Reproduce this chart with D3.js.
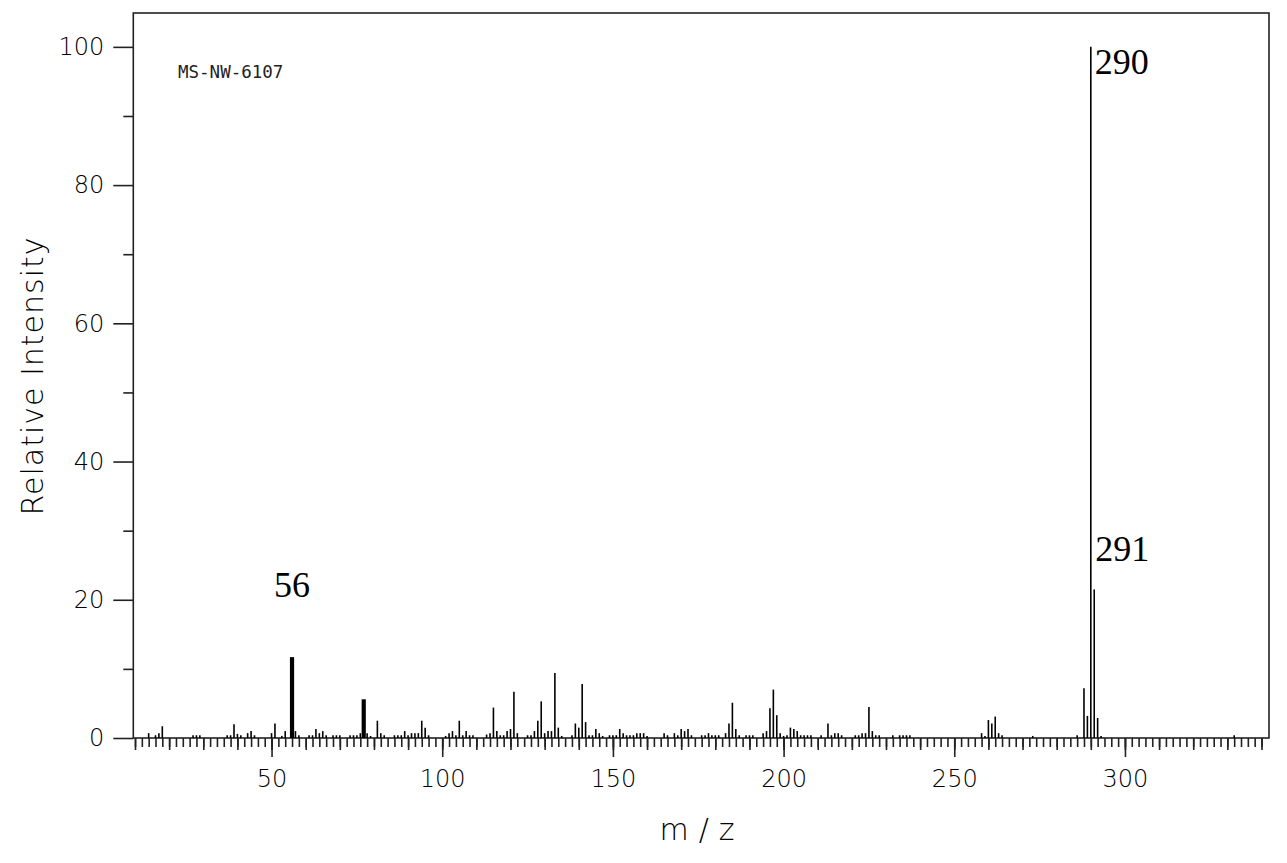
<!DOCTYPE html>
<html>
<head>
<meta charset="utf-8">
<script src="https://cdn.jsdelivr.net/npm/d3@7"></script>
<style>
  body { margin: 0; background: #fff; }
  svg { display: block; }
</style>
</head>
<body>
<div id="spectrum"></div>
<script>
// peak list (m/z and relative intensity, %)
const peakMz = [
  14, 16, 17, 18, 27, 28, 29, 37, 38, 39, 40, 41, 43, 44, 45, 50, 51, 53, 54, 56,
  57, 58, 61, 62, 63, 64, 65, 66, 68, 69, 70, 73, 74, 75, 76, 77, 78, 79, 81, 82,
  83, 86, 87, 88, 89, 90, 91, 92, 93, 94, 95, 96, 101, 102, 103, 104, 105, 106, 107, 108,
  109, 113, 114, 115, 116, 117, 118, 119, 120, 121, 122, 125, 126, 127, 128, 129, 130, 131, 132, 133,
  134, 135, 138, 139, 140, 141, 142, 143, 144, 145, 146, 147, 149, 150, 151, 152, 153, 154, 155, 156,
  157, 158, 159, 160, 165, 166, 168, 169, 170, 171, 172, 173, 176, 177, 178, 179, 180, 181, 183, 184,
  185, 186, 187, 189, 190, 191, 194, 195, 196, 197, 198, 199, 200, 201, 202, 203, 204, 205, 206, 207,
  208, 211, 213, 214, 215, 216, 217, 221, 222, 223, 224, 225, 226, 227, 228, 232, 234, 235, 236, 237,
  258, 259, 260, 261, 262, 263, 264, 273, 286, 288, 289, 290, 291, 292, 293, 332
]
const peakIntensity = [
  0.7, 0.4, 0.7, 1.7, 0.4, 0.4, 0.4, 0.4, 0.4, 2.0, 0.6, 0.4, 0.7, 1.0, 0.4, 0.7, 2.1, 0.3, 1.0, 11.7,
  1.0, 0.4, 0.4, 0.4, 1.3, 0.7, 1.0, 0.4, 0.4, 0.4, 0.4, 0.4, 0.4, 0.4, 0.7, 5.6, 0.7, 0.3, 2.5, 0.7,
  0.4, 0.4, 0.4, 0.4, 1.0, 0.4, 0.7, 0.7, 0.7, 2.5, 1.5, 0.4, 0.3, 0.7, 1.0, 0.4, 2.5, 0.4, 1.0, 0.4,
  0.4, 0.5, 0.7, 4.4, 1.0, 0.4, 0.4, 1.0, 1.3, 6.7, 0.7, 0.4, 0.4, 1.0, 2.5, 5.3, 0.7, 1.0, 1.0, 9.4,
  1.5, 0.3, 0.4, 2.1, 1.5, 7.8, 2.3, 0.4, 0.4, 1.3, 0.7, 0.3, 0.4, 0.4, 0.4, 1.3, 0.7, 0.4, 0.4, 0.4,
  0.7, 0.7, 0.7, 0.3, 0.7, 0.4, 0.7, 0.4, 1.3, 1.0, 1.3, 0.4, 0.4, 0.4, 0.7, 0.4, 0.4, 0.4, 0.7, 2.1,
  5.1, 1.3, 0.4, 0.4, 0.4, 0.4, 0.7, 1.0, 4.3, 7.0, 3.3, 0.7, 0.3, 0.4, 1.5, 1.3, 1.0, 0.4, 0.4, 0.4,
  0.4, 0.4, 2.1, 0.4, 0.7, 0.7, 0.4, 0.4, 0.4, 0.7, 0.7, 4.5, 1.0, 0.4, 0.4, 0.4, 0.4, 0.4, 0.4, 0.4,
  0.7, 0.3, 2.6, 2.1, 3.1, 0.7, 0.4, 0.3, 0.4, 7.2, 3.2, 100, 21.5, 2.9, 0.3, 0.4
]
const labelledPeaks = [56, 290, 291]
const xTickLabels = [50, 100, 150, 200, 250, 300]
const yTickLabels = [0, 20, 40, 60, 80, 100]
const sampleId = 'MS-NW-6107'

const peaks = peakMz.map((mz, i) => ({ mz: mz, value: peakIntensity[i] }))

const width = 1287
const height = 863
const plot = { left: 133.3, right: 1269, top: 13, bottom: 738 }
const ink = '#222'
const tickFont = "'DejaVu Sans', sans-serif"

const svg = d3
  .select('#spectrum')
  .append('svg')
  .attr('width', width)
  .attr('height', height)

const x = d3
  .scaleLinear()
  .domain([9.5, 342.2])
  .range([plot.left, plot.right])

const y = d3
  .scaleLinear()
  .domain([0, 104.9])
  .range([plot.bottom, plot.top])

// x ticks: every 2, longer every 10, longest (labelled) every 50
const xMinor = g =>
  g
    .attr('transform', `translate(0,${plot.bottom})`)
    .call(d3.axisBottom(x).tickValues(d3.range(10, 342, 2)).tickSize(9).tickFormat(''))
    .call(g => g.select('.domain').remove())

const xMid = g =>
  g
    .attr('transform', `translate(0,${plot.bottom})`)
    .call(d3.axisBottom(x).tickValues(d3.range(10, 342, 10)).tickSize(12).tickFormat(''))
    .call(g => g.select('.domain').remove())

const xAxis = g =>
  g
    .attr('transform', `translate(0,${plot.bottom})`)
    .call(d3.axisBottom(x).tickValues(xTickLabels).tickSize(19).tickPadding(13))
    .call(g => g.select('.domain').remove())
    .call(g =>
      g
        .selectAll('text')
        .style('font-family', tickFont)
        .style('font-weight', 200)
        .style('font-size', '24px')
        .attr('fill', '#000')
    )

const yMinor = g =>
  g
    .attr('transform', `translate(${plot.left},0)`)
    .call(d3.axisLeft(y).tickValues([10, 30, 50, 70, 90]).tickSize(10).tickFormat(''))
    .call(g => g.select('.domain').remove())

const yAxis = g =>
  g
    .attr('transform', `translate(${plot.left},0)`)
    .call(d3.axisLeft(y).tickValues(yTickLabels).tickSize(20).tickPadding(9))
    .call(g => g.select('.domain').remove())
    .call(g =>
      g
        .selectAll('text')
        .style('font-family', tickFont)
        .style('font-weight', 200)
        .style('font-size', '24px')
        .attr('fill', '#000')
    )

svg.append('g').call(xMinor)
svg.append('g').call(xMid)
svg.append('g').call(xAxis)
svg.append('g').call(yMinor)
svg.append('g').call(yAxis)

svg.selectAll('.tick line').attr('stroke', ink).attr('stroke-width', 1.6)

// frame
svg
  .append('rect')
  .attr('x', plot.left)
  .attr('y', plot.top)
  .attr('width', plot.right - plot.left)
  .attr('height', plot.bottom - plot.top)
  .attr('fill', 'none')
  .attr('stroke', ink)
  .attr('stroke-width', 1.6)

// sticks
const heavy = [56, 77]
svg
  .append('g')
  .selectAll('line')
  .data(peaks)
  .join('line')
  .attr('x1', d => x(d.mz))
  .attr('x2', d => x(d.mz))
  .attr('y1', y(0))
  .attr('y2', d => y(d.value))
  .attr('stroke', '#000')
  .attr('stroke-width', d => (heavy.includes(d.mz) ? 4.2 : 1.6))

// peak labels
const place = {
  56: { anchor: 'middle', dx: 0, dy: -60 },
  290: { anchor: 'start', dx: 4, dy: 27 },
  291: { anchor: 'start', dx: 1, dy: -28 }
}
svg
  .append('g')
  .selectAll('text')
  .data(peaks.filter(d => labelledPeaks.includes(d.mz)))
  .join('text')
  .attr('x', d => x(d.mz) + place[d.mz].dx)
  .attr('y', d => y(d.value) + place[d.mz].dy)
  .attr('text-anchor', d => place[d.mz].anchor)
  .style('font-family', "'Liberation Serif', 'Times New Roman', serif")
  .style('font-size', '36px')
  .attr('fill', '#000')
  .text(d => d.mz)

svg
  .append('text')
  .attr('x', 178)
  .attr('y', 78)
  .style('font-family', "'DejaVu Sans Mono', monospace")
  .style('font-size', '17.5px')
  .attr('fill', ink)
  .text(sampleId)

// axis titles
svg
  .append('text')
  .attr('transform', 'translate(43,376) rotate(-90)')
  .attr('text-anchor', 'middle')
  .style('font-family', tickFont)
  .style('font-weight', 200)
  .style('font-size', '30px')
  .style('letter-spacing', '1px')
  .attr('fill', '#000')
  .text('Relative Intensity')

svg
  .append('text')
  .attr('x', 702)
  .attr('y', 840)
  .attr('text-anchor', 'middle')
  .style('font-family', tickFont)
  .style('font-weight', 200)
  .style('font-size', '30px')
  .style('letter-spacing', '10px')
  .attr('fill', '#000')
  .text('m/z')
</script>
</body>
</html>
